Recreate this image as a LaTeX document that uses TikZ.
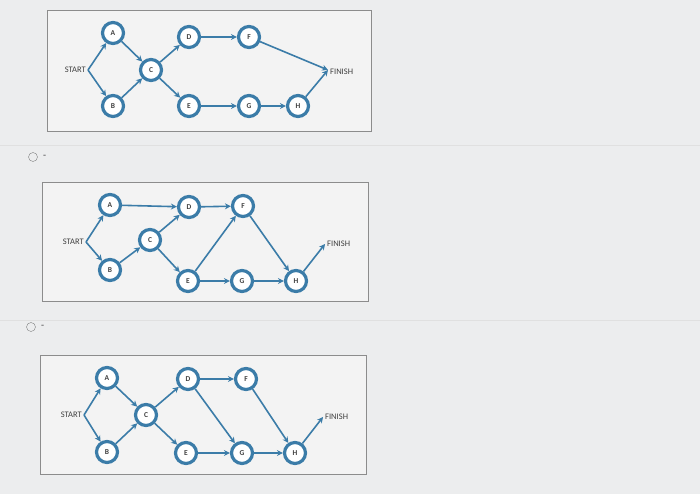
\documentclass[tikz,border=0pt]{standalone}
\usepackage{fontspec}
\setmainfont{Carlito}
\usetikzlibrary{arrows.meta}
\definecolor{bl}{HTML}{3B7CA8}
\definecolor{bg}{HTML}{ECEDEE}
\definecolor{panel}{HTML}{F3F3F3}
\begin{document}
\begin{tikzpicture}[x=1pt,y=-1pt,
  nd/.style={circle,draw=bl,line width=3.2pt,fill=white,minimum size=21pt,inner sep=0pt,font=\fontsize{7.5}{7.5}\selectfont\bfseries,text=black!75},
  lbl/.style={font=\fontsize{8.5}{9}\selectfont,text=black!75,inner sep=0pt},
  ed/.style={draw=bl,line width=1.6pt,-{Stealth[length=6pt,width=6pt]}},
  pan/.style={draw=black!45,fill=panel,line width=0.7pt}]
\path[fill=bg] (0,0) rectangle (700,494);
\useasboundingbox (0,0) rectangle (700,494);
\draw[black!12] (0,145) -- (700,145);
\draw[black!12] (0,320) -- (700,320);
\node[circle,draw=black!50,minimum size=9pt,inner sep=0pt] (r1) at (33,157) {};
\node[lbl,anchor=west,font=\fontsize{10}{10}\selectfont] (d1) at (43,157) {-};
\node[circle,draw=black!50,minimum size=9pt,inner sep=0pt] (r2) at (31,327) {};
\node[lbl,anchor=west,font=\fontsize{10}{10}\selectfont] (d2) at (41,327) {-};
% panel 1
\draw[pan] (47,10) rectangle (371,131);
\node[lbl,anchor=east] (s1) at (86,70) {START};
\coordinate (s1p) at (88,70);
\node[lbl,anchor=west] (f1) at (330,72) {FINISH};
\coordinate (f1p) at (328,70);
\node[nd] (a1) at (113,33) {A};
\node[nd] (b1) at (113,106) {B};
\node[nd] (c1) at (151,70) {C};
\node[nd] (dd1) at (189,37) {D};
\node[nd] (ff1) at (249,37) {F};
\node[nd] (e1) at (189,106) {E};
\node[nd] (g1) at (249,106) {G};
\node[nd] (h1) at (298,106) {H};
\draw[ed] (s1p)--(a1); \draw[ed] (s1p)--(b1);
\draw[ed] (a1)--(c1); \draw[ed] (b1)--(c1);
\draw[ed] (c1)--(dd1); \draw[ed] (c1)--(e1);
\draw[ed] (dd1)--(ff1); \draw[ed] (e1)--(g1); \draw[ed] (g1)--(h1);
\draw[ed] (ff1)--(f1p); \draw[ed] (h1)--(f1p);
% panel 2
\draw[pan] (42,182) rectangle (368,301);
\node[lbl,anchor=east] (s2) at (84,242) {START};
\coordinate (s2p) at (86,242);
\node[lbl,anchor=west] (f2) at (327,244) {FINISH};
\coordinate (f2p) at (325,244);
\node[nd] (a2) at (110,205) {A};
\node[nd] (b2) at (110,270) {B};
\node[nd] (c2) at (150,240) {C};
\node[nd] (dd2) at (189,207) {D};
\node[nd] (ff2) at (243,206) {F};
\node[nd] (e2) at (188,281) {E};
\node[nd] (g2) at (242,281) {G};
\node[nd] (h2) at (296,281) {H};
\draw[ed] (s2p)--(a2); \draw[ed] (s2p)--(b2);
\draw[ed] (a2)--(dd2); \draw[ed] (b2)--(c2);
\draw[ed] (c2)--(dd2); \draw[ed] (c2)--(e2);
\draw[ed] (dd2)--(ff2); \draw[ed] (e2)--(ff2); \draw[ed] (e2)--(g2);
\draw[ed] (ff2)--(h2); \draw[ed] (g2)--(h2); \draw[ed] (h2)--(f2p);
% panel 3
\draw[pan] (40,355) rectangle (366,474);
\node[lbl,anchor=east] (s3) at (82,415) {START};
\coordinate (s3p) at (84,415);
\node[lbl,anchor=west] (f3) at (325,417) {FINISH};
\coordinate (f3p) at (323,417);
\node[nd] (a3) at (107,378) {A};
\node[nd] (b3) at (107,452) {B};
\node[nd] (c3) at (146,415) {C};
\node[nd] (dd3) at (188,379) {D};
\node[nd] (ff3) at (246,379) {F};
\node[nd] (e3) at (186,453) {E};
\node[nd] (g3) at (242,453) {G};
\node[nd] (h3) at (295,453) {H};
\draw[ed] (s3p)--(a3); \draw[ed] (s3p)--(b3);
\draw[ed] (a3)--(c3); \draw[ed] (b3)--(c3);
\draw[ed] (c3)--(dd3); \draw[ed] (c3)--(e3);
\draw[ed] (dd3)--(ff3); \draw[ed] (dd3)--(g3); \draw[ed] (e3)--(g3);
\draw[ed] (ff3)--(h3); \draw[ed] (g3)--(h3); \draw[ed] (h3)--(f3p);
\end{tikzpicture}
\end{document}
